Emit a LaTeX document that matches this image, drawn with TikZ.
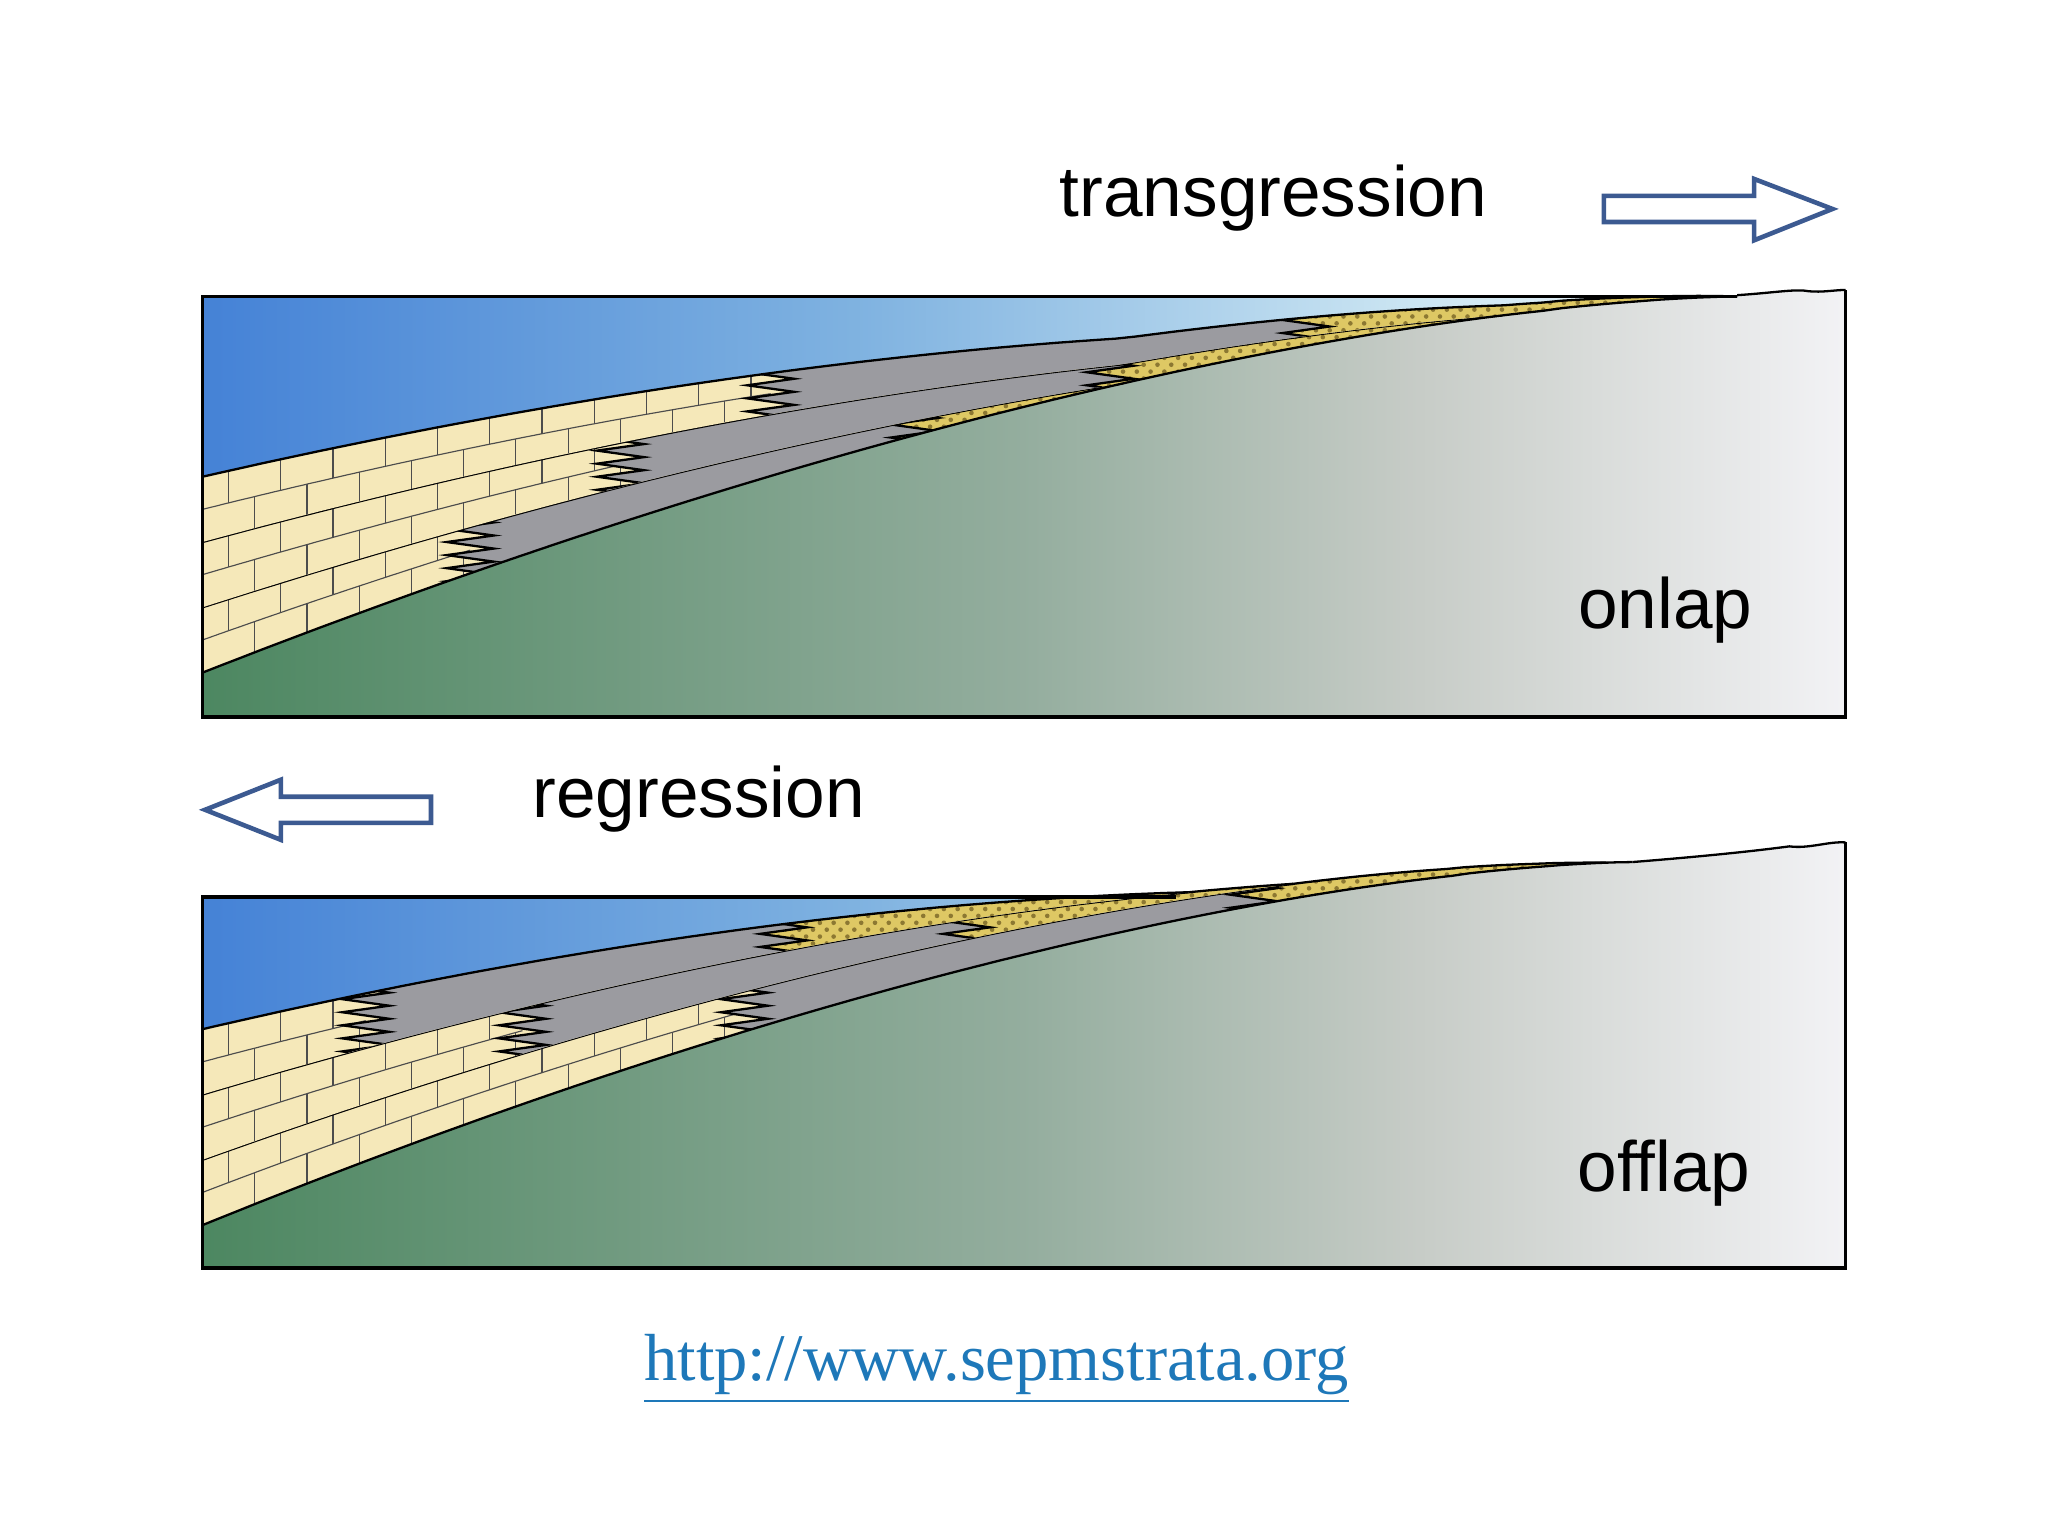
\documentclass[tikz,border=0pt]{standalone}
\usepackage{fontspec}
\setmainfont{Liberation Serif}
\setsansfont{Liberation Sans}
\usetikzlibrary{patterns}
\definecolor{limec}{RGB}{245,232,185}
\definecolor{shalec}{RGB}{155,155,160}
\definecolor{sandc}{RGB}{222,200,100}
\definecolor{dotc}{RGB}{140,120,50}
\definecolor{arrc}{RGB}{60,90,145}
\definecolor{urlc}{RGB}{30,120,185}
\pgfdeclarehorizontalshading{skysh}{100bp}{rgb(0bp)=(0.27,0.51,0.84); rgb(25bp)=(0.27,0.51,0.84); rgb(45bp)=(0.50,0.70,0.88); rgb(62bp)=(0.80,0.90,0.95); rgb(75bp)=(1,1,1); rgb(100bp)=(1,1,1)}
\pgfdeclarehorizontalshading{groundsh}{100bp}{rgb(0bp)=(0.30,0.53,0.38); rgb(25bp)=(0.30,0.53,0.38); rgb(50bp)=(0.58,0.68,0.62); rgb(62bp)=(0.78,0.80,0.78); rgb(75bp)=(0.95,0.95,0.96); rgb(100bp)=(0.95,0.95,0.96)}
\newcommand\zig[2]{(#1+18,#2) \foreach \i in {0,...,39}{ -- (#1-18,#2+5+\i*10) -- (#1+18,#2+10+\i*10)}}
% #1 lower, #2 upper, #3 xend, #4 zig1, #5 zig2, #6 y start
\newcommand\stratum[6]{%
\begin{scope}
\clip plot[domain=155:#3] (\x,{#1}) -- plot[domain=#3:155] (\x,{#2}) -- cycle;
\fill[limec] (100,#6) rectangle (1500,#6+400);
\draw[brick] plot[domain=155:#4] (\x,{0.5*(#1)+0.5*(#2)});
\foreach \x in {175,215,...,#4}{\draw[brick] (\x,{#2}) -- (\x,{0.5*(#1)+0.5*(#2)});}
\foreach \x in {195,235,...,#4}{\draw[brick] (\x,{#1}) -- (\x,{0.5*(#1)+0.5*(#2)});}
\fill[shalec] \zig{#4}{#6} -- (1500,#6+400) -- (1500,#6) -- cycle;
\fill[sandc] \zig{#5}{#6} -- (1500,#6+400) -- (1500,#6) -- cycle;
\fill[pattern=crosshatch dots,pattern color=dotc] \zig{#5}{#6} -- (1500,#6+400) -- (1500,#6) -- cycle;
\draw[line width=0.5pt] \zig{#4}{#6};
\draw[line width=0.5pt] \zig{#5}{#6};
\end{scope}
\draw[line width=0.5pt] plot[domain=155:#3] (\x,{#2});}
\begin{document}
\begin{tikzpicture}[x=0.01cm,y=-0.01cm,samples=80,
  declare function={
    B(\x)=227+288*(max(0.0001,(1330-\x)/1175))^1.6;
    fa(\x)=50*max(0,(860-\x)/705);
    fb(\x)=50*max(0,(1150-\x)/995);
    fc(\x)=50*max(0,(1330-\x)/1175);
    C(\x)=660+278*(max(0.0001,(1250-\x)/1095))^1.6;
    fp(\x)=50*max(0,(1230-\x)/1075);
    fq(\x)=50*max(0,(990-\x)/835);
    fr(\x)=50*max(0,(910-\x)/755);
  },
  brick/.style={line width=0.25pt,draw=black!70},
  lbl/.style={font=\sffamily\fontsize{15.5}{18}\selectfont},
  bigarrow/.style={draw=arrc,line width=1pt,fill=white}]
\useasboundingbox (0,0) rectangle (1568,1176);
% ---------- top panel ----------
\shade[shading=skysh] (155,227) rectangle (1413,549);
\shade[shading=groundsh] (155,549) -- plot[domain=155:1330] (\x,{B(\x)}) .. controls (1360,224) and (1375,221) .. (1385,223) .. controls (1395,224) and (1405,222) .. (1413,222) -- (1413,549) -- cycle;
\stratum{B(\x)}{B(\x)-fa(\x)}{860}{360}{700}{200}
\stratum{B(\x)-fa(\x)}{B(\x)-fa(\x)-fb(\x)}{1150}{475}{850}{200}
\stratum{B(\x)-fa(\x)-fb(\x)}{B(\x)-fa(\x)-fb(\x)-fc(\x)}{1330}{590}{1000}{200}
\draw[line width=0.5pt] plot[domain=155:1330] (\x,{B(\x)});
\draw[line width=0.8pt] (1330,227) -- (155,227) -- (155,549) -- (1413,549) -- (1413,222);
\draw[line width=0.5pt] (1330,226) .. controls (1360,224) and (1375,221) .. (1385,223) .. controls (1395,224) and (1405,222) .. (1413,222);
% ---------- bottom panel ----------
\shade[shading=skysh] (155,687) rectangle (1413,971);
\shade[shading=groundsh] (155,971) -- plot[domain=155:1250] (\x,{C(\x)}) .. controls (1300,656) and (1340,652) .. (1370,648) .. controls (1385,650) and (1400,644) .. (1413,645) -- (1413,971) -- cycle;
\stratum{C(\x)}{C(\x)-fp(\x)}{1230}{570}{960}{640}
\stratum{C(\x)-fp(\x)}{C(\x)-fp(\x)-fq(\x)}{990}{400}{740}{640}
\stratum{C(\x)-fp(\x)-fq(\x)}{C(\x)-fp(\x)-fq(\x)-fr(\x)}{910}{280}{600}{640}
\draw[line width=0.5pt] plot[domain=155:1250] (\x,{C(\x)});
\draw[line width=0.8pt] (900,687) -- (155,687) -- (155,971) -- (1413,971) -- (1413,645);
\draw[line width=0.5pt] (1250,660) .. controls (1300,656) and (1340,652) .. (1370,648) .. controls (1385,650) and (1400,644) .. (1413,645);
% ---------- labels ----------
\node[lbl] (tr) at (975,152) {transgression};
\node[lbl] (on) at (1275,467) {onlap};
\node[lbl] (re) at (535,612) {regression};
\node[lbl] (of) at (1274,898) {offlap};
\node[font=\fontsize{14.5}{17}\selectfont,text=urlc] (url) at (763,1048) {\underline{http://www.sepmstrata.org}};
% arrows
\draw[bigarrow] (1228,150) -- (1343,150) -- (1343,137) -- (1403,160) -- (1343,184) -- (1343,170) -- (1228,170) -- cycle;
\draw[bigarrow] (330,610) -- (215,610) -- (215,597) -- (157,620) -- (215,643) -- (215,630) -- (330,630) -- cycle;
\end{tikzpicture}
\end{document}
